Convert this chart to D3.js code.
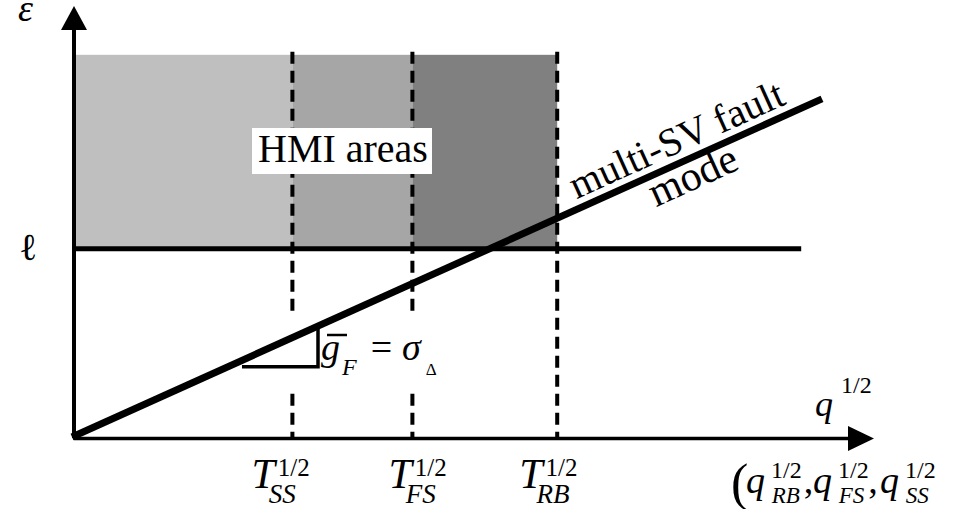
<!DOCTYPE html>
<html>
<head>
<meta charset="utf-8">
<script src="https://cdn.jsdelivr.net/npm/d3@7"></script>
</head>
<body style="margin:0">
<svg id="chart"></svg>
<script>
// schematic values, in arbitrary units (q^1/2 on x, epsilon on y)
const thresholdQ = [27.3, 42.3, 60.4];        // T^1/2 for SS, FS, RB
const thresholdNames = ["SS", "FS", "RB"];
const tupleNames = ["RB", "FS", "SS"];
const ellEps = 43.8;                           // alert limit l
const ellEndQ = 90.9;
const hmiTopEps = 88.7;
const faultQ = [0, 93.5];
const faultEps = [0, 78.5];
const slopeQ = [21.0, 30.5];
const hmiLabel = "HMI areas";
const faultLabel = ["multi-SV fault", "mode"];

const W = 968, H = 509;
const svg = d3.select("#chart").attr("width", W).attr("height", H);

const x = d3.scaleLinear().domain([0, 100]).range([74, 874]);
const y = d3.scaleLinear().domain([0, 100]).range([438, 6]);
const faultAt = q => faultEps[0] + (faultEps[1] - faultEps[0]) * (q - faultQ[0]) / (faultQ[1] - faultQ[0]);

// every text gets the serif font right when it is made
const addText = sel => sel.append("text").attr("font-family", "Liberation Serif").attr("fill", "#000");

// shaded HMI regions
const shades = ["#bfbfbf", "#a6a6a6", "#808080"];
const bounds = [0].concat(thresholdQ);
svg.selectAll("rect.hmi")
    .data(thresholdQ)
    .enter().append("rect")
    .attr("class", "hmi")
    .attr("x", (d, i) => x(bounds[i]))
    .attr("y", y(hmiTopEps))
    .attr("width", (d, i) => x(d) - x(bounds[i]))
    .attr("height", y(ellEps) - y(hmiTopEps))
    .attr("fill", (d, i) => shades[i]);

// dashed threshold lines
svg.selectAll("line.thr")
    .data(thresholdQ)
    .enter().append("line")
    .attr("class", "thr")
    .attr("x1", d => x(d)).attr("x2", d => x(d))
    .attr("y1", y(hmiTopEps) - 3).attr("y2", y(0))
    .attr("stroke", "#000")
    .attr("stroke-width", 4)
    .attr("stroke-dasharray", "12,7");

// white boxes behind labels
svg.append("rect")
    .attr("x", 252).attr("y", 128).attr("width", 180).attr("height", 46)
    .attr("fill", "#fff");
svg.append("rect")
    .attr("x", 236).attr("y", 317).attr("width", 234).attr("height", 75)
    .attr("fill", "#fff");

addText(svg)
    .attr("x", 258).attr("y", 162)
    .attr("font-size", 40)
    .text(hmiLabel);

// alert limit line
svg.append("line")
    .attr("x1", x(0)).attr("x2", x(ellEndQ))
    .attr("y1", y(ellEps)).attr("y2", y(ellEps))
    .attr("stroke", "#000").attr("stroke-width", 5);

// axes
svg.append("line")
    .attr("x1", x(0)).attr("x2", x(100) - 24)
    .attr("y1", y(0) + 0.5).attr("y2", y(0) + 0.5)
    .attr("stroke", "#000").attr("stroke-width", 3.5);
svg.append("path")
    .attr("d", `M${x(100)},${y(0) + 0.5}L${x(100) - 26},${y(0) - 12}L${x(100) - 26},${y(0) + 13}Z`)
    .attr("fill", "#000");
svg.append("line")
    .attr("x1", x(0)).attr("x2", x(0))
    .attr("y1", y(0)).attr("y2", y(100) + 22)
    .attr("stroke", "#000").attr("stroke-width", 4);
svg.append("path")
    .attr("d", `M${x(0)},${y(100)}L${x(0) - 13},${y(100) + 24}L${x(0) + 13},${y(100) + 24}Z`)
    .attr("fill", "#000");

// slope triangle
const yStart = y(faultAt(slopeQ[0])) + 5;
svg.append("path")
    .attr("d", `M${x(slopeQ[0])},${yStart}H${x(slopeQ[1])}V${y(faultAt(slopeQ[1]))}`)
    .attr("fill", "none")
    .attr("stroke", "#000").attr("stroke-width", 3.5);

// fault mode line
svg.append("line")
    .attr("x1", x(faultQ[0]) - 2).attr("y1", y(faultEps[0]) - 1)
    .attr("x2", x(faultQ[1])).attr("y2", y(faultEps[1]))
    .attr("stroke", "#000").attr("stroke-width", 7);

const angle = Math.atan2(y(faultEps[0]) - y(faultEps[1]), x(faultQ[1]) - x(faultQ[0])) * 180 / Math.PI;
const labelQ = 76.5;
const fg = svg.append("g")
    .attr("transform", `translate(${x(labelQ)},${y(faultAt(labelQ))}) rotate(${-angle})`);
addText(fg)
    .attr("text-anchor", "middle")
    .attr("y", -10)
    .attr("font-size", 40)
    .text(faultLabel[0]);
addText(fg)
    .attr("text-anchor", "middle")
    .attr("y", 30)
    .attr("font-size", 42)
    .text(faultLabel[1]);

// slope label  g_F = sigma_Delta
svg.append("line")
    .attr("x1", 327).attr("x2", 347).attr("y1", 335).attr("y2", 335)
    .attr("stroke", "#000").attr("stroke-width", 2.5);
const sl = addText(svg).attr("x", 321).attr("y", 360).attr("font-size", 38);
sl.append("tspan").attr("font-style", "italic").text("g");
sl.append("tspan").attr("font-style", "italic").attr("font-size", 24).attr("dx", 2).attr("dy", 15).text("F");
sl.append("tspan").attr("dx", 14).attr("dy", -15).text("=");
sl.append("tspan").attr("font-style", "italic").attr("dx", 10).text("\u03C3");
sl.append("tspan").attr("font-size", 17).attr("dx", 5).attr("dy", 15).text("\u0394");

// threshold tick labels
const labelNudge = [-41, -24, -38];
const tickLabels = svg.selectAll("text.tick")
    .data(thresholdQ)
    .enter().append("text")
    .attr("class", "tick")
    .attr("font-family", "Liberation Serif")
    .attr("x", (d, i) => x(d) + labelNudge[i])
    .attr("y", 488)
    .attr("font-size", 42);
tickLabels.append("tspan").attr("font-style", "italic").text("T");
tickLabels.append("tspan").attr("font-size", 25).attr("dx", 3).attr("dy", -12).text("1/2");
tickLabels.append("tspan").attr("font-style", "italic").attr("font-size", 27)
    .attr("dx", -41).attr("dy", 27)
    .text((d, i) => thresholdNames[i]);

// axis labels
addText(svg).attr("x", 18).attr("y", 21)
    .attr("font-size", 38).attr("font-style", "italic").text("\u03B5");
addText(svg).attr("x", 19).attr("y", 260)
    .attr("font-size", 38).text("\u2113");

const ql = addText(svg).attr("x", 815).attr("y", 416).attr("font-size", 36);
ql.append("tspan").attr("font-style", "italic").text("q");
ql.append("tspan").attr("font-size", 24).attr("dx", 8).attr("dy", -23).text("1/2");

// tuple of q^1/2 values under the axis
addText(svg).attr("x", 731).attr("y", 500).attr("font-size", 52).text("(");
const tu = svg.selectAll("text.tuple")
    .data(tupleNames)
    .enter().append("text")
    .attr("class", "tuple")
    .attr("font-family", "Liberation Serif")
    .attr("x", (d, i) => 746 + i * 67)
    .attr("y", 493)
    .attr("font-size", 38);
tu.append("tspan").attr("font-style", "italic").text("q");
tu.append("tspan").attr("font-size", 24).attr("dx", 6).attr("dy", -15).text("1/2");
tu.append("tspan").attr("font-style", "italic").attr("font-size", 23)
    .attr("dx", -30).attr("dy", 25).text(d => d);
tu.append("tspan").attr("dx", (d, i) => i < 2 ? 4 : 0).attr("dy", -10)
    .text((d, i) => i < 2 ? "," : "");
</script>
</body>
</html>
